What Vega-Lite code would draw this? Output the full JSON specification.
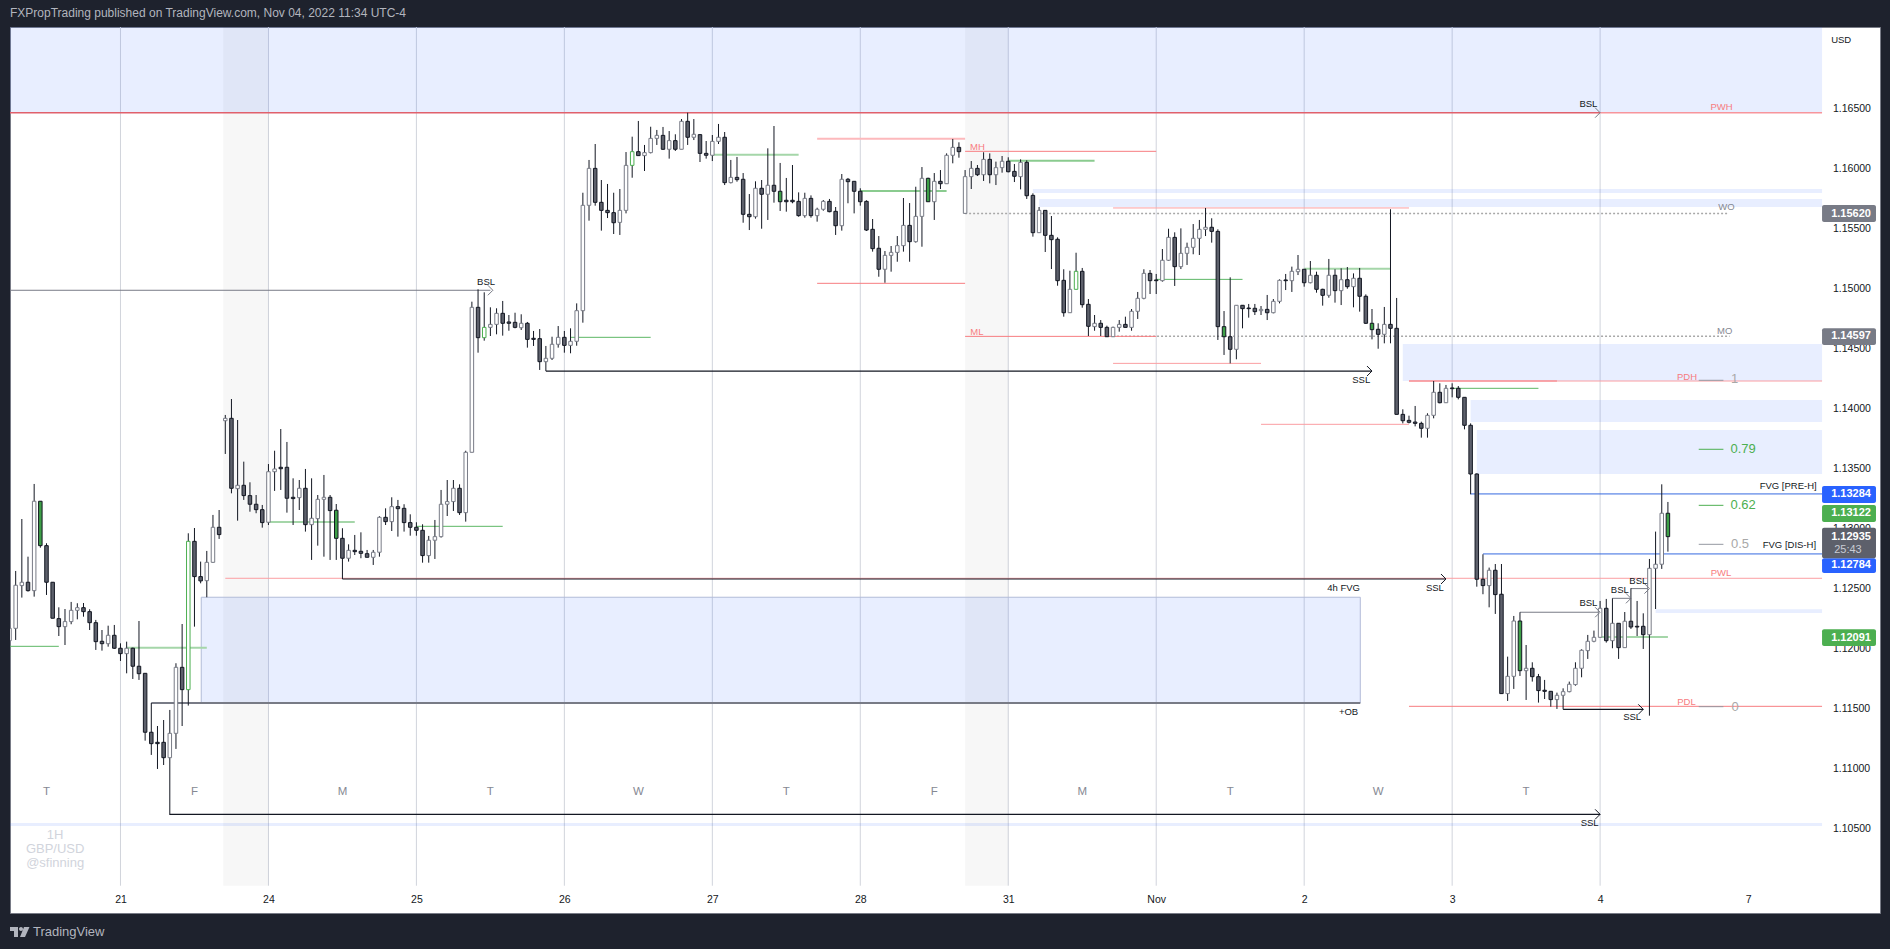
{
"$schema":"https://vega.github.io/schema/vega-lite/v6.json",
"description":"GBP/USD 1H candlesticks with liquidity annotations",
"width":1870,"height":886,
"autosize":{"type":"none"},
"padding":{"left":10,"top":27,"right":10,"bottom":36},
"background":"#1e222d",
"view":{"fill":"#ffffff","stroke":"#787b86"},
"title":{"text":"FXPropTrading published on TradingView.com, Nov 04, 2022 11:34 UTC-4","anchor":"start","frame":"group","offset":7,"font":"Liberation Sans","fontSize":12,"fontWeight":"normal","color":"#b2b5be"},
"resolve":{"scale":{"color":"independent","fill":"independent","stroke":"independent","strokeWidth":"independent","size":"independent"}},
"encoding":{
"x":{"field":"i","type":"quantitative","title":null,"scale":{"domain":[-17.92,285.4],"nice":false,"zero":false,"padding":0},
"axis":{"values":[0,24,48,72,96,120,144,168,192,216,240,264],"labelExpr":"['21','24','25','26','27','28','31','Nov','2','3','4','7'][datum.value/24]","domain":false,"ticks":false,"grid":false,"labelPadding":-19,"labelColor":"#131722","labelFont":"Liberation Sans","labelFontSize":10.5,"labelOverlap":false,"labelFlush":false}},
"y":{"field":"p","type":"quantitative","title":null,"scale":{"domain":[1.097917,1.17175],"nice":false,"zero":false},
"axis":{"orient":"right","values":[1.105,1.11,1.115,1.12,1.125,1.13,1.135,1.14,1.145,1.15,1.155,1.16,1.165],"format":".5f","domain":false,"ticks":false,"grid":false,"labelPadding":-47.5,"labelColor":"#131722","labelFont":"Liberation Sans","labelFontSize":10.5}}
},
"layer":[
{"data":{"values":[{"i":0,"p":1.17175,"p2":1.10019},{"i":24,"p":1.17175,"p2":1.10019},{"i":48,"p":1.17175,"p2":1.10019},{"i":72,"p":1.17175,"p2":1.10019},{"i":96,"p":1.17175,"p2":1.10019},{"i":120,"p":1.17175,"p2":1.10019},{"i":144,"p":1.17175,"p2":1.10019},{"i":168,"p":1.17175,"p2":1.10019},{"i":192,"p":1.17175,"p2":1.10019},{"i":216,"p":1.17175,"p2":1.10019},{"i":240,"p":1.17175,"p2":1.10019}]},
"mark":{"type":"rule","color":"#d1d4dc","strokeWidth":1},
"encoding":{"y2":{"field":"p2"}}},
{"data":{"values":[{"i":16.67,"i2":24,"p":1.17175,"p2":1.10019},{"i":137,"i2":144,"p":1.17175,"p2":1.10019}]},
"mark":{"type":"rect","color":"#000000","opacity":0.03},
"encoding":{"x2":{"field":"i2"},"y2":{"field":"p2"}}},
{"data":{"values":[
{"i":-17.92,"i2":276,"p":1.17175,"p2":1.16461},
{"i":148,"i2":276,"p":1.15825,"p2":1.15792},
{"i":149,"i2":276,"p":1.15742,"p2":1.15675},
{"i":208,"i2":276,"p":1.14533,"p2":1.14225},
{"i":219,"i2":276,"p":1.14067,"p2":1.13883},
{"i":220,"i2":276,"p":1.13817,"p2":1.1345},
{"i":249,"i2":276,"p":1.12323,"p2":1.12292},
{"i":-17.92,"i2":276,"p":1.10542,"p2":1.10517}]},
"mark":{"type":"rect","color":"#2962ff","opacity":0.11},
"encoding":{"x2":{"field":"i2"},"y2":{"field":"p2"}}},
{"data":{"values":[{"i":13.1,"i2":201.1,"p":1.12423,"p2":1.11542}]},
"mark":{"type":"rect","fill":"#2962ff","fillOpacity":0.11,"stroke":"#b2bbd8","strokeWidth":1},
"encoding":{"x2":{"field":"i2"},"y2":{"field":"p2"}}},
{"data":{"values":[
{"i":137,"i2":260.7,"p":1.1562},
{"i":161,"i2":261,"p":1.14597}]},
"mark":{"type":"rule","color":"#a8a8a8","strokeWidth":1.5,"strokeDash":[2,2]},
"encoding":{"x2":{"field":"i2"}}},
{"data":{"values":[
{"i":-17.92,"i2":240,"p":1.16461,"k":"pwh"},
{"i":240,"i2":276,"p":1.16461,"k":"pwhPale"},
{"i":-17.92,"i2":60,"p":1.14981,"k":"gray"},
{"i":69,"i2":203,"p":1.14308,"k":"black"},
{"i":17,"i2":276,"p":1.12581,"k":"pink"},
{"i":36,"i2":215,"p":1.12575,"k":"black"},
{"i":8,"i2":240,"p":1.10614,"k":"black"},
{"i":5,"i2":201.1,"p":1.11542,"k":"ob"},
{"i":-17.92,"i2":-10,"p":1.12014,"k":"green"},
{"i":1,"i2":14,"p":1.12003,"k":"greenPale"},
{"i":24,"i2":38,"p":1.1305,"k":"greenPale"},
{"i":48,"i2":62,"p":1.13014,"k":"green"},
{"i":73,"i2":86,"p":1.14589,"k":"green"},
{"i":96,"i2":110,"p":1.16111,"k":"greenPale"},
{"i":120,"i2":134,"p":1.15808,"k":"greenMid"},
{"i":144,"i2":158,"p":1.16061,"k":"greenMid"},
{"i":168,"i2":182,"p":1.15072,"k":"green"},
{"i":192,"i2":206,"p":1.15161,"k":"greenPale"},
{"i":216,"i2":230,"p":1.14164,"k":"green"},
{"i":240,"i2":251,"p":1.12092,"k":"greenPale"},
{"i":113,"i2":137,"p":1.16244,"k":"redPale"},
{"i":137,"i2":168,"p":1.16139,"k":"red"},
{"i":113,"i2":137,"p":1.15039,"k":"red"},
{"i":137,"i2":168,"p":1.14597,"k":"red"},
{"i":161,"i2":209,"p":1.15667,"k":"pink"},
{"i":161,"i2":185,"p":1.14372,"k":"pink"},
{"i":185,"i2":209,"p":1.13864,"k":"pink"},
{"i":209,"i2":276,"p":1.14225,"k":"pink"},
{"i":209,"i2":233,"p":1.14225,"k":"red"},
{"i":209,"i2":276,"p":1.11514,"k":"red"},
{"i":219,"i2":276,"p":1.13284,"k":"blue"},
{"i":221,"i2":276,"p":1.12784,"k":"blue"},
{"i":227,"i2":240,"p":1.12298,"k":"gray"},
{"i":242,"i2":245,"p":1.12414,"k":"gray"},
{"i":245,"i2":248,"p":1.12495,"k":"gray"},
{"i":234,"i2":247,"p":1.11489,"k":"black"},
{"i":256,"i2":260,"p":1.13656,"k":"fibGreen"},
{"i":256,"i2":260,"p":1.13189,"k":"fibGreen"},
{"i":256,"i2":260,"p":1.12864,"k":"fibGray"},
{"i":256,"i2":260,"p":1.14231,"k":"fibGray"},
{"i":256,"i2":260,"p":1.11511,"k":"fibGray"}]},
"mark":{"type":"rule"},
"encoding":{"x2":{"field":"i2"},
"color":{"field":"k","type":"nominal","legend":null,"scale":{"domain":["pwh","pwhPale","gray","black","pink","ob","green","greenPale","greenMid","redPale","red","blue","fibGreen","fibGray"],"range":["#e0606c","#f7959c","#787b86","#131722","#fb9ea2","#787b86","#5cb765","#a5d6a9","#8acb8f","#fdb9bc","#f77c80","#3568e0","#4caf50","#9598a1"]}},
"strokeWidth":{"field":"k","type":"nominal","legend":null,"scale":{"type":"ordinal","domain":["pwh","pwhPale","gray","black","pink","ob","green","greenPale","greenMid","redPale","red","blue","fibGreen","fibGray"],"range":[1.5,1.5,1,1.2,1,2,1,2,2,2,1,1,1,1]}}}},
{"data":{"values":[
{"i":-18,"o":1.12061,"h":1.12317,"l":1.11845,"c":1.12164,"k":"up"},
{"i":-17,"o":1.12164,"h":1.12642,"l":1.12067,"c":1.12523,"k":"up"},
{"i":-16,"o":1.1252,"h":1.13075,"l":1.1242,"c":1.12548,"k":"up"},
{"i":-15,"o":1.12548,"h":1.12761,"l":1.1247,"c":1.12478,"k":"down"},
{"i":-14,"o":1.12478,"h":1.13367,"l":1.12428,"c":1.13223,"k":"up"},
{"i":-13,"o":1.13223,"h":1.13223,"l":1.12836,"c":1.12853,"k":"gDown"},
{"i":-12,"o":1.12853,"h":1.12873,"l":1.12442,"c":1.12548,"k":"down"},
{"i":-11,"o":1.12548,"h":1.12548,"l":1.12248,"c":1.12248,"k":"down"},
{"i":-10,"o":1.12245,"h":1.12339,"l":1.121,"c":1.12178,"k":"down"},
{"i":-9,"o":1.12178,"h":1.12325,"l":1.12025,"c":1.1222,"k":"up"},
{"i":-8,"o":1.1222,"h":1.12384,"l":1.12198,"c":1.12314,"k":"up"},
{"i":-7,"o":1.12314,"h":1.12373,"l":1.12239,"c":1.12336,"k":"up"},
{"i":-6,"o":1.12336,"h":1.12375,"l":1.12261,"c":1.12303,"k":"down"},
{"i":-5,"o":1.12303,"h":1.12323,"l":1.1215,"c":1.12211,"k":"down"},
{"i":-4,"o":1.12211,"h":1.12234,"l":1.11984,"c":1.12053,"k":"down"},
{"i":-3,"o":1.12056,"h":1.1215,"l":1.11978,"c":1.12036,"k":"down"},
{"i":-2,"o":1.12036,"h":1.12186,"l":1.12011,"c":1.12106,"k":"up"},
{"i":-1,"o":1.12106,"h":1.12192,"l":1.11992,"c":1.11998,"k":"down"},
{"i":0,"o":1.11998,"h":1.12039,"l":1.11892,"c":1.11953,"k":"down"},
{"i":1,"o":1.11953,"h":1.12053,"l":1.11789,"c":1.11998,"k":"up"},
{"i":2,"o":1.11998,"h":1.12003,"l":1.11742,"c":1.11848,"k":"down"},
{"i":3,"o":1.11848,"h":1.12225,"l":1.11734,"c":1.11786,"k":"down"},
{"i":4,"o":1.11789,"h":1.11789,"l":1.11228,"c":1.11298,"k":"down"},
{"i":5,"o":1.11298,"h":1.11542,"l":1.11109,"c":1.11203,"k":"down"},
{"i":6,"o":1.11214,"h":1.1135,"l":1.10992,"c":1.11203,"k":"down"},
{"i":7,"o":1.11214,"h":1.114,"l":1.11025,"c":1.11086,"k":"down"},
{"i":8,"o":1.11086,"h":1.11484,"l":1.10609,"c":1.11289,"k":"up"},
{"i":9,"o":1.11289,"h":1.11873,"l":1.11159,"c":1.11839,"k":"up"},
{"i":10,"o":1.11839,"h":1.122,"l":1.1135,"c":1.11653,"k":"down"},
{"i":11,"o":1.11653,"h":1.12956,"l":1.1152,"c":1.12889,"k":"gUp"},
{"i":12,"o":1.12889,"h":1.13,"l":1.12178,"c":1.12595,"k":"down"},
{"i":13,"o":1.12595,"h":1.1272,"l":1.12539,"c":1.12559,"k":"down"},
{"i":14,"o":1.12561,"h":1.12809,"l":1.12423,"c":1.12714,"k":"up"},
{"i":15,"o":1.12714,"h":1.13109,"l":1.12711,"c":1.13006,"k":"up"},
{"i":16,"o":1.13006,"h":1.1315,"l":1.12909,"c":1.12945,"k":"down"},
{"i":17,"o":1.13894,"h":1.13942,"l":1.13617,"c":1.13914,"k":"up"},
{"i":18,"o":1.13914,"h":1.14075,"l":1.13289,"c":1.13331,"k":"down"},
{"i":19,"o":1.13328,"h":1.139,"l":1.13061,"c":1.13356,"k":"up"},
{"i":20,"o":1.13356,"h":1.13553,"l":1.13234,"c":1.1327,"k":"down"},
{"i":21,"o":1.1327,"h":1.13381,"l":1.13136,"c":1.13198,"k":"down"},
{"i":22,"o":1.13198,"h":1.13275,"l":1.13123,"c":1.13153,"k":"down"},
{"i":23,"o":1.13153,"h":1.13192,"l":1.13003,"c":1.13045,"k":"down"},
{"i":24,"o":1.13048,"h":1.13533,"l":1.13025,"c":1.13469,"k":"up"},
{"i":25,"o":1.13469,"h":1.13644,"l":1.13309,"c":1.13492,"k":"up"},
{"i":26,"o":1.13506,"h":1.13825,"l":1.13317,"c":1.13494,"k":"down"},
{"i":27,"o":1.13506,"h":1.13717,"l":1.13128,"c":1.13248,"k":"down"},
{"i":28,"o":1.13256,"h":1.13414,"l":1.13025,"c":1.13245,"k":"down"},
{"i":29,"o":1.13253,"h":1.134,"l":1.1315,"c":1.13331,"k":"up"},
{"i":30,"o":1.13331,"h":1.13492,"l":1.1297,"c":1.13028,"k":"down"},
{"i":31,"o":1.13028,"h":1.13414,"l":1.12734,"c":1.13081,"k":"up"},
{"i":32,"o":1.13078,"h":1.13275,"l":1.12853,"c":1.13239,"k":"up"},
{"i":33,"o":1.13239,"h":1.13442,"l":1.12761,"c":1.13256,"k":"up"},
{"i":34,"o":1.13256,"h":1.13275,"l":1.12734,"c":1.13145,"k":"down"},
{"i":35,"o":1.13148,"h":1.132,"l":1.12734,"c":1.12914,"k":"gDown"},
{"i":36,"o":1.12914,"h":1.12998,"l":1.12575,"c":1.12748,"k":"down"},
{"i":37,"o":1.12748,"h":1.12864,"l":1.1272,"c":1.12814,"k":"up"},
{"i":38,"o":1.12814,"h":1.12942,"l":1.12775,"c":1.12803,"k":"down"},
{"i":39,"o":1.12806,"h":1.12964,"l":1.12748,"c":1.12789,"k":"down"},
{"i":40,"o":1.12786,"h":1.12817,"l":1.12756,"c":1.12756,"k":"down"},
{"i":41,"o":1.12756,"h":1.12817,"l":1.12692,"c":1.12798,"k":"up"},
{"i":42,"o":1.12798,"h":1.13098,"l":1.12761,"c":1.13089,"k":"up"},
{"i":43,"o":1.13089,"h":1.13164,"l":1.13025,"c":1.13053,"k":"down"},
{"i":44,"o":1.13053,"h":1.13256,"l":1.12975,"c":1.13178,"k":"up"},
{"i":45,"o":1.13178,"h":1.13234,"l":1.12928,"c":1.13161,"k":"down"},
{"i":46,"o":1.13164,"h":1.13198,"l":1.1297,"c":1.13045,"k":"down"},
{"i":47,"o":1.13045,"h":1.13114,"l":1.12936,"c":1.13006,"k":"down"},
{"i":48,"o":1.13006,"h":1.13048,"l":1.12936,"c":1.12981,"k":"down"},
{"i":49,"o":1.12981,"h":1.13031,"l":1.12711,"c":1.1277,"k":"down"},
{"i":50,"o":1.1277,"h":1.12934,"l":1.12711,"c":1.12898,"k":"up"},
{"i":51,"o":1.12898,"h":1.13067,"l":1.12742,"c":1.12928,"k":"up"},
{"i":52,"o":1.12928,"h":1.13317,"l":1.1292,"c":1.13198,"k":"up"},
{"i":53,"o":1.13198,"h":1.134,"l":1.131,"c":1.1322,"k":"up"},
{"i":54,"o":1.1322,"h":1.134,"l":1.13142,"c":1.13331,"k":"up"},
{"i":55,"o":1.13331,"h":1.13364,"l":1.13109,"c":1.13128,"k":"down"},
{"i":56,"o":1.13128,"h":1.13644,"l":1.13053,"c":1.13631,"k":"up"},
{"i":57,"o":1.13631,"h":1.14886,"l":1.13631,"c":1.14839,"k":"up"},
{"i":58,"o":1.14839,"h":1.14989,"l":1.14461,"c":1.14586,"k":"down"},
{"i":59,"o":1.14586,"h":1.14964,"l":1.14561,"c":1.14672,"k":"gUp"},
{"i":60,"o":1.14672,"h":1.14839,"l":1.146,"c":1.14697,"k":"up"},
{"i":61,"o":1.14697,"h":1.14831,"l":1.14614,"c":1.14789,"k":"up"},
{"i":62,"o":1.14789,"h":1.14892,"l":1.14603,"c":1.14706,"k":"down"},
{"i":63,"o":1.14717,"h":1.14775,"l":1.14644,"c":1.14706,"k":"down"},
{"i":64,"o":1.14714,"h":1.14794,"l":1.14664,"c":1.14672,"k":"down"},
{"i":65,"o":1.14669,"h":1.14781,"l":1.1465,"c":1.14706,"k":"up"},
{"i":66,"o":1.14706,"h":1.14717,"l":1.14503,"c":1.14572,"k":"down"},
{"i":67,"o":1.14581,"h":1.14642,"l":1.14517,"c":1.14572,"k":"down"},
{"i":68,"o":1.14578,"h":1.14658,"l":1.14317,"c":1.14386,"k":"down"},
{"i":69,"o":1.14386,"h":1.14517,"l":1.14308,"c":1.14414,"k":"up"},
{"i":70,"o":1.14414,"h":1.14594,"l":1.144,"c":1.14531,"k":"up"},
{"i":71,"o":1.14531,"h":1.14683,"l":1.14503,"c":1.14589,"k":"up"},
{"i":72,"o":1.14589,"h":1.14642,"l":1.14461,"c":1.14522,"k":"down"},
{"i":73,"o":1.14522,"h":1.14664,"l":1.14456,"c":1.14556,"k":"up"},
{"i":74,"o":1.14556,"h":1.14872,"l":1.14519,"c":1.14811,"k":"up"},
{"i":75,"o":1.14811,"h":1.15794,"l":1.14711,"c":1.15689,"k":"up"},
{"i":76,"o":1.15689,"h":1.16067,"l":1.15561,"c":1.15997,"k":"up"},
{"i":77,"o":1.15997,"h":1.162,"l":1.15686,"c":1.15714,"k":"down"},
{"i":78,"o":1.15714,"h":1.159,"l":1.15478,"c":1.15647,"k":"down"},
{"i":79,"o":1.15647,"h":1.15867,"l":1.15583,"c":1.15628,"k":"down"},
{"i":80,"o":1.15628,"h":1.15794,"l":1.1545,"c":1.15544,"k":"down"},
{"i":81,"o":1.15547,"h":1.15825,"l":1.15442,"c":1.15647,"k":"up"},
{"i":82,"o":1.15647,"h":1.16133,"l":1.15622,"c":1.16022,"k":"up"},
{"i":83,"o":1.16022,"h":1.16261,"l":1.15919,"c":1.16136,"k":"gUp"},
{"i":84,"o":1.16136,"h":1.16392,"l":1.16103,"c":1.16103,"k":"down"},
{"i":85,"o":1.16103,"h":1.16192,"l":1.15975,"c":1.16128,"k":"up"},
{"i":86,"o":1.16128,"h":1.16344,"l":1.16122,"c":1.16247,"k":"up"},
{"i":87,"o":1.16247,"h":1.16317,"l":1.16192,"c":1.16272,"k":"up"},
{"i":88,"o":1.16272,"h":1.16342,"l":1.1615,"c":1.16156,"k":"down"},
{"i":89,"o":1.16156,"h":1.16308,"l":1.16078,"c":1.16228,"k":"up"},
{"i":90,"o":1.16228,"h":1.16281,"l":1.16142,"c":1.16156,"k":"down"},
{"i":91,"o":1.16156,"h":1.16408,"l":1.16156,"c":1.16389,"k":"up"},
{"i":92,"o":1.16389,"h":1.16461,"l":1.16192,"c":1.16256,"k":"down"},
{"i":93,"o":1.16256,"h":1.16408,"l":1.16233,"c":1.16281,"k":"up"},
{"i":94,"o":1.16278,"h":1.16281,"l":1.1605,"c":1.16122,"k":"down"},
{"i":95,"o":1.16122,"h":1.16225,"l":1.16078,"c":1.16106,"k":"down"},
{"i":96,"o":1.16106,"h":1.16275,"l":1.16058,"c":1.16222,"k":"up"},
{"i":97,"o":1.16222,"h":1.16367,"l":1.162,"c":1.16256,"k":"up"},
{"i":98,"o":1.16256,"h":1.163,"l":1.15858,"c":1.15878,"k":"down"},
{"i":99,"o":1.15878,"h":1.16067,"l":1.15872,"c":1.15922,"k":"up"},
{"i":100,"o":1.15922,"h":1.16092,"l":1.15886,"c":1.15903,"k":"down"},
{"i":101,"o":1.15906,"h":1.15958,"l":1.15544,"c":1.15614,"k":"down"},
{"i":102,"o":1.15614,"h":1.15783,"l":1.15483,"c":1.15594,"k":"down"},
{"i":103,"o":1.15594,"h":1.15889,"l":1.15578,"c":1.15831,"k":"up"},
{"i":104,"o":1.15831,"h":1.159,"l":1.15494,"c":1.15781,"k":"down"},
{"i":105,"o":1.15781,"h":1.16164,"l":1.15567,"c":1.15856,"k":"up"},
{"i":106,"o":1.15856,"h":1.1635,"l":1.15711,"c":1.15806,"k":"down"},
{"i":107,"o":1.15806,"h":1.16042,"l":1.15642,"c":1.15719,"k":"gDown"},
{"i":108,"o":1.15731,"h":1.15917,"l":1.15636,"c":1.15719,"k":"down"},
{"i":109,"o":1.15731,"h":1.16025,"l":1.15706,"c":1.15719,"k":"down"},
{"i":110,"o":1.15722,"h":1.15797,"l":1.15594,"c":1.15603,"k":"down"},
{"i":111,"o":1.15603,"h":1.15794,"l":1.15586,"c":1.15747,"k":"up"},
{"i":112,"o":1.15747,"h":1.15772,"l":1.15586,"c":1.15603,"k":"down"},
{"i":113,"o":1.15603,"h":1.15669,"l":1.15553,"c":1.15656,"k":"up"},
{"i":114,"o":1.15656,"h":1.15733,"l":1.15644,"c":1.15722,"k":"up"},
{"i":115,"o":1.15722,"h":1.15742,"l":1.15631,"c":1.15636,"k":"down"},
{"i":116,"o":1.15639,"h":1.15675,"l":1.15442,"c":1.15519,"k":"down"},
{"i":117,"o":1.15519,"h":1.1595,"l":1.15478,"c":1.15906,"k":"up"},
{"i":118,"o":1.15906,"h":1.15917,"l":1.15706,"c":1.15886,"k":"down"},
{"i":119,"o":1.15889,"h":1.15889,"l":1.15622,"c":1.15806,"k":"down"},
{"i":120,"o":1.15806,"h":1.15831,"l":1.15686,"c":1.15719,"k":"down"},
{"i":121,"o":1.15722,"h":1.15731,"l":1.15475,"c":1.15483,"k":"down"},
{"i":122,"o":1.15489,"h":1.15575,"l":1.15303,"c":1.15328,"k":"down"},
{"i":123,"o":1.15331,"h":1.15433,"l":1.15094,"c":1.15156,"k":"down"},
{"i":124,"o":1.15156,"h":1.15308,"l":1.15044,"c":1.15272,"k":"up"},
{"i":125,"o":1.15272,"h":1.1535,"l":1.15136,"c":1.15297,"k":"up"},
{"i":126,"o":1.15297,"h":1.15433,"l":1.15219,"c":1.15353,"k":"up"},
{"i":127,"o":1.15353,"h":1.1575,"l":1.15303,"c":1.15522,"k":"up"},
{"i":128,"o":1.15522,"h":1.15708,"l":1.15219,"c":1.15386,"k":"down"},
{"i":129,"o":1.15386,"h":1.15844,"l":1.15378,"c":1.15597,"k":"up"},
{"i":130,"o":1.15597,"h":1.16008,"l":1.15344,"c":1.15914,"k":"up"},
{"i":131,"o":1.15914,"h":1.15919,"l":1.15719,"c":1.15719,"k":"gDown"},
{"i":132,"o":1.15719,"h":1.15958,"l":1.15567,"c":1.15889,"k":"up"},
{"i":133,"o":1.15889,"h":1.15983,"l":1.15825,"c":1.15869,"k":"down"},
{"i":134,"o":1.15869,"h":1.16122,"l":1.15869,"c":1.16106,"k":"up"},
{"i":135,"o":1.16106,"h":1.16242,"l":1.16039,"c":1.16172,"k":"up"},
{"i":136,"o":1.16172,"h":1.16214,"l":1.16086,"c":1.16136,"k":"down"},
{"i":137,"o":1.15622,"h":1.15983,"l":1.15622,"c":1.15928,"k":"up"},
{"i":138,"o":1.15928,"h":1.16058,"l":1.15825,"c":1.15997,"k":"up"},
{"i":139,"o":1.15997,"h":1.16025,"l":1.15933,"c":1.15944,"k":"down"},
{"i":140,"o":1.15944,"h":1.16131,"l":1.15892,"c":1.16072,"k":"up"},
{"i":141,"o":1.16072,"h":1.16122,"l":1.15872,"c":1.15944,"k":"down"},
{"i":142,"o":1.15944,"h":1.16053,"l":1.15858,"c":1.16003,"k":"up"},
{"i":143,"o":1.16003,"h":1.161,"l":1.15961,"c":1.16056,"k":"up"},
{"i":144,"o":1.16056,"h":1.16089,"l":1.15964,"c":1.15969,"k":"down"},
{"i":145,"o":1.15972,"h":1.16033,"l":1.15883,"c":1.15931,"k":"down"},
{"i":146,"o":1.15928,"h":1.16072,"l":1.15822,"c":1.16047,"k":"up"},
{"i":147,"o":1.16047,"h":1.16064,"l":1.15742,"c":1.15769,"k":"down"},
{"i":148,"o":1.15772,"h":1.15789,"l":1.15428,"c":1.15461,"k":"down"},
{"i":149,"o":1.15461,"h":1.15675,"l":1.15461,"c":1.15647,"k":"up"},
{"i":150,"o":1.15647,"h":1.1565,"l":1.153,"c":1.15439,"k":"down"},
{"i":151,"o":1.15439,"h":1.156,"l":1.15158,"c":1.15403,"k":"down"},
{"i":152,"o":1.15406,"h":1.15422,"l":1.15019,"c":1.15061,"k":"down"},
{"i":153,"o":1.15064,"h":1.15156,"l":1.14761,"c":1.14794,"k":"down"},
{"i":154,"o":1.14794,"h":1.15144,"l":1.14794,"c":1.14989,"k":"up"},
{"i":155,"o":1.14989,"h":1.15294,"l":1.14989,"c":1.15139,"k":"gUp"},
{"i":156,"o":1.15139,"h":1.15167,"l":1.14836,"c":1.14861,"k":"down"},
{"i":157,"o":1.14864,"h":1.14908,"l":1.146,"c":1.14681,"k":"down"},
{"i":158,"o":1.14678,"h":1.14775,"l":1.14644,"c":1.14706,"k":"up"},
{"i":159,"o":1.14706,"h":1.14733,"l":1.146,"c":1.14672,"k":"down"},
{"i":160,"o":1.14672,"h":1.14686,"l":1.14594,"c":1.14594,"k":"down"},
{"i":161,"o":1.14594,"h":1.14678,"l":1.14594,"c":1.14672,"k":"up"},
{"i":162,"o":1.14672,"h":1.14733,"l":1.14636,"c":1.14697,"k":"up"},
{"i":163,"o":1.14697,"h":1.14761,"l":1.14672,"c":1.14672,"k":"down"},
{"i":164,"o":1.14672,"h":1.14825,"l":1.14644,"c":1.14806,"k":"up"},
{"i":165,"o":1.14806,"h":1.14967,"l":1.14742,"c":1.14914,"k":"up"},
{"i":166,"o":1.14914,"h":1.15156,"l":1.14906,"c":1.15122,"k":"up"},
{"i":167,"o":1.15122,"h":1.1515,"l":1.1495,"c":1.15061,"k":"down"},
{"i":168,"o":1.15067,"h":1.15117,"l":1.1495,"c":1.15061,"k":"down"},
{"i":169,"o":1.15061,"h":1.15325,"l":1.15053,"c":1.15231,"k":"up"},
{"i":170,"o":1.15231,"h":1.15494,"l":1.15225,"c":1.15422,"k":"up"},
{"i":171,"o":1.15422,"h":1.15464,"l":1.15017,"c":1.15178,"k":"down"},
{"i":172,"o":1.15178,"h":1.15497,"l":1.15158,"c":1.15289,"k":"up"},
{"i":173,"o":1.15289,"h":1.15378,"l":1.15192,"c":1.15339,"k":"up"},
{"i":174,"o":1.15339,"h":1.15533,"l":1.15281,"c":1.15414,"k":"up"},
{"i":175,"o":1.15414,"h":1.15567,"l":1.15275,"c":1.15489,"k":"up"},
{"i":176,"o":1.15489,"h":1.15667,"l":1.15433,"c":1.15506,"k":"up"},
{"i":177,"o":1.15506,"h":1.15581,"l":1.15378,"c":1.15472,"k":"down"},
{"i":178,"o":1.15472,"h":1.15489,"l":1.14567,"c":1.14678,"k":"down"},
{"i":179,"o":1.14678,"h":1.14808,"l":1.14442,"c":1.14594,"k":"gDown"},
{"i":180,"o":1.14594,"h":1.15089,"l":1.14372,"c":1.14489,"k":"down"},
{"i":181,"o":1.14489,"h":1.14856,"l":1.14406,"c":1.14856,"k":"up"},
{"i":182,"o":1.14856,"h":1.14858,"l":1.14664,"c":1.14828,"k":"down"},
{"i":183,"o":1.14833,"h":1.14867,"l":1.14753,"c":1.14828,"k":"down"},
{"i":184,"o":1.14831,"h":1.14867,"l":1.14775,"c":1.14803,"k":"down"},
{"i":185,"o":1.14811,"h":1.1485,"l":1.14775,"c":1.14822,"k":"up"},
{"i":186,"o":1.14822,"h":1.14942,"l":1.14733,"c":1.14794,"k":"down"},
{"i":187,"o":1.14794,"h":1.14908,"l":1.14789,"c":1.14889,"k":"up"},
{"i":188,"o":1.14889,"h":1.15072,"l":1.14872,"c":1.15064,"k":"up"},
{"i":189,"o":1.15067,"h":1.15117,"l":1.14983,"c":1.15061,"k":"down"},
{"i":190,"o":1.15061,"h":1.15178,"l":1.14967,"c":1.15139,"k":"up"},
{"i":191,"o":1.15136,"h":1.15275,"l":1.15108,"c":1.15156,"k":"up"},
{"i":192,"o":1.15156,"h":1.15156,"l":1.15011,"c":1.15044,"k":"down"},
{"i":193,"o":1.15044,"h":1.15225,"l":1.15039,"c":1.15106,"k":"up"},
{"i":194,"o":1.15106,"h":1.15136,"l":1.14961,"c":1.14989,"k":"down"},
{"i":195,"o":1.14989,"h":1.14994,"l":1.14853,"c":1.14939,"k":"down"},
{"i":196,"o":1.14939,"h":1.15242,"l":1.14919,"c":1.15106,"k":"up"},
{"i":197,"o":1.15106,"h":1.15156,"l":1.14878,"c":1.14978,"k":"down"},
{"i":198,"o":1.14978,"h":1.15164,"l":1.14858,"c":1.15069,"k":"up"},
{"i":199,"o":1.15069,"h":1.15175,"l":1.14994,"c":1.15011,"k":"down"},
{"i":200,"o":1.15011,"h":1.15122,"l":1.14839,"c":1.15081,"k":"up"},
{"i":201,"o":1.15081,"h":1.15167,"l":1.14803,"c":1.14931,"k":"down"},
{"i":202,"o":1.14931,"h":1.14947,"l":1.147,"c":1.14706,"k":"down"},
{"i":203,"o":1.14706,"h":1.14825,"l":1.14572,"c":1.14653,"k":"gDown"},
{"i":204,"o":1.14656,"h":1.14706,"l":1.14494,"c":1.14614,"k":"down"},
{"i":205,"o":1.14614,"h":1.14842,"l":1.14539,"c":1.14697,"k":"up"},
{"i":206,"o":1.14697,"h":1.15656,"l":1.14539,"c":1.14664,"k":"down"},
{"i":207,"o":1.14664,"h":1.14917,"l":1.13947,"c":1.13947,"k":"down"},
{"i":208,"o":1.13947,"h":1.13989,"l":1.13872,"c":1.13894,"k":"down"},
{"i":209,"o":1.13897,"h":1.13936,"l":1.13872,"c":1.13881,"k":"down"},
{"i":210,"o":1.13883,"h":1.14017,"l":1.13847,"c":1.13872,"k":"down"},
{"i":211,"o":1.13872,"h":1.13886,"l":1.13753,"c":1.13831,"k":"down"},
{"i":212,"o":1.13831,"h":1.13956,"l":1.13753,"c":1.13939,"k":"up"},
{"i":213,"o":1.13939,"h":1.14225,"l":1.13914,"c":1.14131,"k":"up"},
{"i":214,"o":1.14131,"h":1.14206,"l":1.14039,"c":1.14044,"k":"down"},
{"i":215,"o":1.14044,"h":1.14192,"l":1.14044,"c":1.14164,"k":"up"},
{"i":216,"o":1.14167,"h":1.14206,"l":1.14089,"c":1.14161,"k":"down"},
{"i":217,"o":1.14164,"h":1.14183,"l":1.14072,"c":1.14089,"k":"down"},
{"i":218,"o":1.14089,"h":1.14089,"l":1.13822,"c":1.13856,"k":"down"},
{"i":219,"o":1.13856,"h":1.13872,"l":1.13281,"c":1.1345,"k":"down"},
{"i":220,"o":1.1345,"h":1.13456,"l":1.12511,"c":1.12573,"k":"down"},
{"i":221,"o":1.12573,"h":1.12781,"l":1.12448,"c":1.1252,"k":"down"},
{"i":222,"o":1.1252,"h":1.1267,"l":1.12339,"c":1.12648,"k":"up"},
{"i":223,"o":1.12648,"h":1.127,"l":1.12284,"c":1.12445,"k":"down"},
{"i":224,"o":1.12448,"h":1.127,"l":1.1162,"c":1.1162,"k":"down"},
{"i":225,"o":1.1162,"h":1.11928,"l":1.11559,"c":1.11764,"k":"up"},
{"i":226,"o":1.11764,"h":1.12267,"l":1.11659,"c":1.12225,"k":"up"},
{"i":227,"o":1.12225,"h":1.12298,"l":1.11767,"c":1.11811,"k":"gDown"},
{"i":228,"o":1.11811,"h":1.12025,"l":1.11567,"c":1.11831,"k":"up"},
{"i":229,"o":1.11831,"h":1.11881,"l":1.1172,"c":1.11761,"k":"down"},
{"i":230,"o":1.11761,"h":1.11784,"l":1.11545,"c":1.11645,"k":"down"},
{"i":231,"o":1.11648,"h":1.11734,"l":1.11575,"c":1.11639,"k":"down"},
{"i":232,"o":1.11639,"h":1.11642,"l":1.11511,"c":1.1157,"k":"down"},
{"i":233,"o":1.1157,"h":1.11628,"l":1.11492,"c":1.11606,"k":"up"},
{"i":234,"o":1.11606,"h":1.11664,"l":1.11489,"c":1.11636,"k":"up"},
{"i":235,"o":1.11636,"h":1.1172,"l":1.11631,"c":1.11698,"k":"up"},
{"i":236,"o":1.11695,"h":1.11881,"l":1.11686,"c":1.11831,"k":"up"},
{"i":237,"o":1.11831,"h":1.11989,"l":1.11756,"c":1.11981,"k":"up"},
{"i":238,"o":1.11978,"h":1.12109,"l":1.11909,"c":1.12056,"k":"up"},
{"i":239,"o":1.12056,"h":1.12145,"l":1.12048,"c":1.12089,"k":"up"},
{"i":240,"o":1.12089,"h":1.12392,"l":1.12089,"c":1.12331,"k":"up"},
{"i":241,"o":1.12331,"h":1.12409,"l":1.12045,"c":1.12061,"k":"down"},
{"i":242,"o":1.12061,"h":1.12414,"l":1.11998,"c":1.12206,"k":"up"},
{"i":243,"o":1.12206,"h":1.12206,"l":1.11909,"c":1.12003,"k":"down"},
{"i":244,"o":1.12003,"h":1.123,"l":1.12003,"c":1.12223,"k":"up"},
{"i":245,"o":1.12223,"h":1.12498,"l":1.12159,"c":1.12175,"k":"down"},
{"i":246,"o":1.12181,"h":1.12392,"l":1.121,"c":1.12175,"k":"down"},
{"i":247,"o":1.12181,"h":1.12289,"l":1.11992,"c":1.12111,"k":"down"},
{"i":248,"o":1.12111,"h":1.12742,"l":1.11436,"c":1.12664,"k":"up"},
{"i":249,"o":1.12664,"h":1.1297,"l":1.12325,"c":1.12698,"k":"up"},
{"i":250,"o":1.12698,"h":1.13364,"l":1.12659,"c":1.13123,"k":"up"},
{"i":251,"o":1.13123,"h":1.13217,"l":1.12803,"c":1.12928,"k":"gDown"}
]},
"layer":[
{"mark":{"type":"rule","color":"#131722","strokeWidth":1,"clip":true},
"encoding":{"y":{"field":"l","type":"quantitative","title":null,"axis":{"orient":"right","values":[1.105,1.11,1.115,1.12,1.125,1.13,1.135,1.14,1.145,1.15,1.155,1.16,1.165],"format":".5f","domain":false,"ticks":false,"grid":false,"labelPadding":-47.5,"labelColor":"#131722","labelFont":"Liberation Sans","labelFontSize":10.5},"scale":{"domain":[1.097917,1.17175],"nice":false,"zero":false}},"y2":{"field":"h"}}},
{"mark":{"type":"bar","orient":"vertical","width":3.5,"strokeWidth":1,"clip":true},
"encoding":{"y":{"field":"o","type":"quantitative","title":null,"axis":{"orient":"right","values":[1.105,1.11,1.115,1.12,1.125,1.13,1.135,1.14,1.145,1.15,1.155,1.16,1.165],"format":".5f","domain":false,"ticks":false,"grid":false,"labelPadding":-47.5,"labelColor":"#131722","labelFont":"Liberation Sans","labelFontSize":10.5},"scale":{"domain":[1.097917,1.17175],"nice":false,"zero":false}},"y2":{"field":"c"},
"fill":{"field":"k","type":"nominal","legend":null,"scale":{"domain":["up","down","gUp","gDown"],"range":["#ffffff","#5d606b","#ffffff","#3d9f47"]}},
"stroke":{"field":"k","type":"nominal","legend":null,"scale":{"domain":["up","down","gUp","gDown"],"range":["#787b86","#131722","#4caf50","#131722"]}}}}
]},
{"data":{"values":[
{"i":60.4,"p":1.14981,"k":"gray"},
{"i":203,"p":1.14308,"k":"black"},
{"i":215,"p":1.12575,"k":"black"},
{"i":240,"p":1.10614,"k":"black"},
{"i":240,"p":1.16461,"k":"gray"},
{"i":240,"p":1.12298,"k":"gray"},
{"i":245,"p":1.12414,"k":"gray"},
{"i":248,"p":1.12495,"k":"gray"},
{"i":247,"p":1.11489,"k":"black"}]},
"mark":{"type":"point","filled":false,"shape":"M-5,-5L0,0L-5,5","size":4,"strokeWidth":1,"opacity":1},
"encoding":{"color":{"field":"k","type":"nominal","legend":null,"scale":{"domain":["gray","black"],"range":["#787b86","#131722"]}}}},
{"data":{"values":[
{"i":276,"i2":284.75,"p":1.15692,"p2":1.1555,"k":"gray"},
{"i":276,"i2":284.75,"p":1.14664,"p2":1.14525,"k":"gray"},
{"i":276,"i2":284.75,"p":1.1335,"p2":1.13209,"k":"blue"},
{"i":276,"i2":284.75,"p":1.13192,"p2":1.1305,"k":"green"},
{"i":276,"i2":284.75,"p":1.12748,"p2":1.12625,"k":"blue"},
{"i":276,"i2":284.75,"p":1.12156,"p2":1.12017,"k":"green"},
{"i":276,"i2":284.75,"p":1.13003,"p2":1.12748,"k":"dark"}]},
"mark":{"type":"rect","cornerRadius":2},
"encoding":{"x2":{"field":"i2"},"y2":{"field":"p2"},
"color":{"field":"k","type":"nominal","legend":null,"scale":{"domain":["gray","blue","green","dark"],"range":["#787b86","#2962ff","#4caf50","#5d606b"]}}}},
{"data":{"values":[
{"i":280.7,"p":1.1562,"t":"1.15620"},
{"i":280.7,"p":1.14597,"t":"1.14597"},
{"i":280.7,"p":1.13284,"t":"1.13284"},
{"i":280.7,"p":1.13122,"t":"1.13122"},
{"i":280.7,"p":1.12925,"t":"1.12935"},
{"i":280.7,"p":1.12692,"t":"1.12784"},
{"i":280.7,"p":1.12084,"t":"1.12091"}]},
"mark":{"type":"text","color":"#ffffff","font":"Liberation Sans","fontSize":11,"fontWeight":"bold","align":"center","baseline":"middle"},
"encoding":{"text":{"field":"t"}}},
{"data":{"values":[
{"i":59.3,"p":1.15053,"t":"BSL","k":"label"},
{"i":238.1,"p":1.16536,"t":"BSL","k":"label"},
{"i":246.2,"p":1.12561,"t":"BSL","k":"label"},
{"i":243.2,"p":1.12486,"t":"BSL","k":"label"},
{"i":238.1,"p":1.12373,"t":"BSL","k":"label"},
{"i":201.25,"p":1.14233,"t":"SSL","k":"label"},
{"i":213.2,"p":1.12503,"t":"SSL","k":"label"},
{"i":245.2,"p":1.11423,"t":"SSL","k":"label"},
{"i":238.3,"p":1.10545,"t":"SSL","k":"label"},
{"i":198.4,"p":1.12498,"t":"4h FVG","k":"label"},
{"i":199.2,"p":1.1147,"t":"+OB","k":"label"},
{"i":270.5,"p":1.13353,"t":"FVG [PRE-H]","k":"label"},
{"i":270.7,"p":1.12856,"t":"FVG [DIS-H]","k":"label"},
{"i":279.1,"p":1.17067,"t":"USD","k":"label"},
{"i":259.7,"p":1.16506,"t":"PWH","k":"red"},
{"i":139,"p":1.16178,"t":"MH","k":"red"},
{"i":138.9,"p":1.14636,"t":"ML","k":"red"},
{"i":254.1,"p":1.14261,"t":"PDH","k":"red"},
{"i":259.6,"p":1.12623,"t":"PWL","k":"red"},
{"i":254,"p":1.11553,"t":"PDL","k":"red"},
{"i":260.5,"p":1.15672,"t":"WO","k":"grey"},
{"i":260.2,"p":1.14644,"t":"MO","k":"grey"},
{"i":-12,"p":1.10803,"t":"T","k":"day"},
{"i":12,"p":1.10803,"t":"F","k":"day"},
{"i":36,"p":1.10803,"t":"M","k":"day"},
{"i":60,"p":1.10803,"t":"T","k":"day"},
{"i":84,"p":1.10803,"t":"W","k":"day"},
{"i":108,"p":1.10803,"t":"T","k":"day"},
{"i":132,"p":1.10803,"t":"F","k":"day"},
{"i":156,"p":1.10803,"t":"M","k":"day"},
{"i":180,"p":1.10803,"t":"T","k":"day"},
{"i":204,"p":1.10803,"t":"W","k":"day"},
{"i":228,"p":1.10803,"t":"T","k":"day"},
{"i":-10.6,"p":1.10442,"t":"1H","k":"mark"},
{"i":-10.6,"p":1.10325,"t":"GBP/USD","k":"mark"},
{"i":-10.6,"p":1.10206,"t":"@sfinning","k":"mark"},
{"i":263.2,"p":1.13661,"t":"0.79","k":"fibGreen"},
{"i":263.2,"p":1.13195,"t":"0.62","k":"fibGreen"},
{"i":262.7,"p":1.1287,"t":"0.5","k":"fibGray"},
{"i":261.8,"p":1.14239,"t":"1","k":"fibGray"},
{"i":261.9,"p":1.11511,"t":"0","k":"fibGray"},
{"i":280.2,"p":1.12814,"t":"25:43","k":"clock"},
{"i":-8.4,"p":1.09633,"t":"TradingView","k":"brand"}]},
"mark":{"type":"text","font":"Liberation Sans","align":"center","baseline":"middle"},
"encoding":{"text":{"field":"t"},
"color":{"field":"k","type":"nominal","legend":null,"scale":{"domain":["label","red","grey","day","mark","fibGreen","fibGray","clock","brand"],"range":["#131722","#f77c80","#868993","#868993","#d1d4dc","#4caf50","#a8a8a8","#c9ccd4","#b2b5be"]}},
"size":{"field":"k","type":"nominal","legend":null,"scale":{"type":"ordinal","domain":["label","red","grey","day","mark","fibGreen","fibGray","clock","brand"],"range":[9.5,9.5,9.5,11.5,13,13,13,11,13]}}}},
{"data":{"values":[{"i":-17.92,"p":1.09633}]},
"mark":{"type":"point","filled":true,"shape":"M0,-5H8V5H4V-1H0Z M9,-3a2,2 0 1,0 4,0a2,2 0 1,0 -4,0Z M14,-5H19.5L15,5H10Z","size":4,"color":"#b2b5be","opacity":1}}
]
}
